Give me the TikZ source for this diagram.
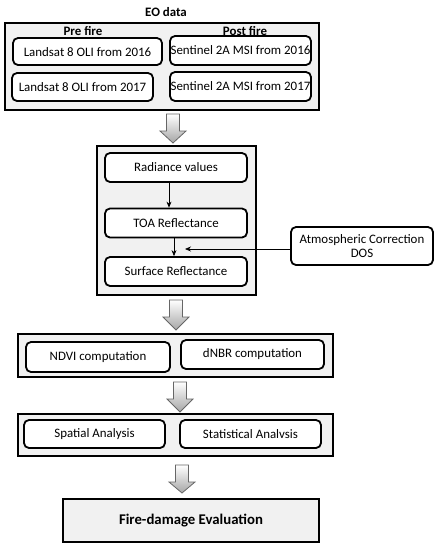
\documentclass[tikz,border=0pt]{standalone}
\usepackage{fontspec}
\setmainfont{Carlito}
\usetikzlibrary{arrows.meta}
\definecolor{panel}{HTML}{F1F1F1}
\tikzset{
  panelbox/.style={draw=black, line width=1.6pt, fill=panel},
  stepbox/.style={draw=black, line width=1.8pt, fill=white, rounded corners=5pt},
  lbl/.style={font=\fontsize{12.9}{14}\selectfont, align=center},
  hdr/.style={font=\bfseries\fontsize{12.9}{14}\selectfont},
  thinarrow/.style={draw=black, line width=0.7pt, -{Stealth[length=6pt,width=5pt]}},
  blockarrow/.style={draw=black!60, line width=0.8pt, top color=white, bottom color=black!35}
}
\newcommand{\blockarr}[3]{% center x, top y, tip y
  \path[blockarrow] (#1-6.5,#2) -- (#1+6.5,#2) -- (#1+6.5,#2+17) -- (#1+13,#2+17) -- (#1,#3) -- (#1-13,#2+17) -- (#1-6.5,#2+17) -- cycle;}
\begin{document}
\begin{tikzpicture}[x=1pt,y=-1pt]
\useasboundingbox (0,0) rectangle (438,550);
% EO data panel
\node[hdr] (eo) at (166,12) {EO data};
\draw[panelbox] (5,23) rectangle (319,110);
\node[hdr] (pre) at (83,31) {Pre fire};
\node[hdr] (post) at (245,31) {Post fire};
\draw[stepbox] (13,38) rectangle (162,65);
\node[lbl] (l16) at (87.5,52) {Landsat 8 OLI from 2016};
\draw[stepbox] (12,73) rectangle (153,101);
\node[lbl] (l17) at (82.5,87) {Landsat 8 OLI from 2017};
\draw[stepbox] (170,36) rectangle (311,65);
\node[lbl] (s16) at (240.5,50.5) {Sentinel 2A MSI from 2016};
\draw[stepbox] (170,72) rectangle (311,101);
\node[lbl] (s17) at (240.5,86.5) {Sentinel 2A MSI from 2017};
% arrow 1
\blockarr{173}{114}{143}
% preprocessing panel
\draw[panelbox] (97,146) rectangle (256,295);
\node[stepbox, lbl, minimum width=142pt, minimum height=29pt] (rad) at (176,167.5) {Radiance values};
\node[stepbox, lbl, minimum width=142pt, minimum height=29pt] (toa) at (176,223) {TOA Reflectance};
\node[stepbox, lbl, minimum width=142pt, minimum height=29pt] (sur) at (176,271.5) {Surface Reflectance};
\draw[thinarrow] (rad.south -| 169,0) -- (toa.north -| 169,0);
\draw[thinarrow] (toa.south -| 174,0) -- (sur.north -| 174,0);
\node[stepbox, lbl, minimum width=142pt, minimum height=38pt, inner sep=2pt] (atm) at (362,246) {Atmospheric Correction\\DOS};
\coordinate (atmtip) at (185,249);
\draw[thinarrow] (atm.west |- atmtip) -- (atmtip);
% arrow 2
\blockarr{176}{300}{330}
% index panel
\draw[panelbox] (18,334) rectangle (333,377);
\node[stepbox, lbl, minimum width=144pt, minimum height=30pt] (ndvi) at (98,357) {NDVI computation};
\node[stepbox, lbl, minimum width=143pt, minimum height=29pt] (dnbr) at (252.5,354.5) {dNBR computation};
% arrow 3
\blockarr{180}{382}{412}
% analysis panel
\draw[panelbox] (18,414) rectangle (333,456);
\node[stepbox, lbl, minimum width=141pt, minimum height=28pt] (spa) at (94.5,434) {Spatial Analysis};
\node[stepbox, lbl, minimum width=141pt, minimum height=28pt] (sta) at (250.5,434) {Statistical Analvsis};
% arrow 4
\blockarr{182}{465}{493}
% final
\node[panelbox, minimum width=256pt, minimum height=43pt, font=\bfseries\fontsize{14.8}{16}\selectfont] (fire) at (191,520.5) {Fire-damage Evaluation};
\end{tikzpicture}
\end{document}
